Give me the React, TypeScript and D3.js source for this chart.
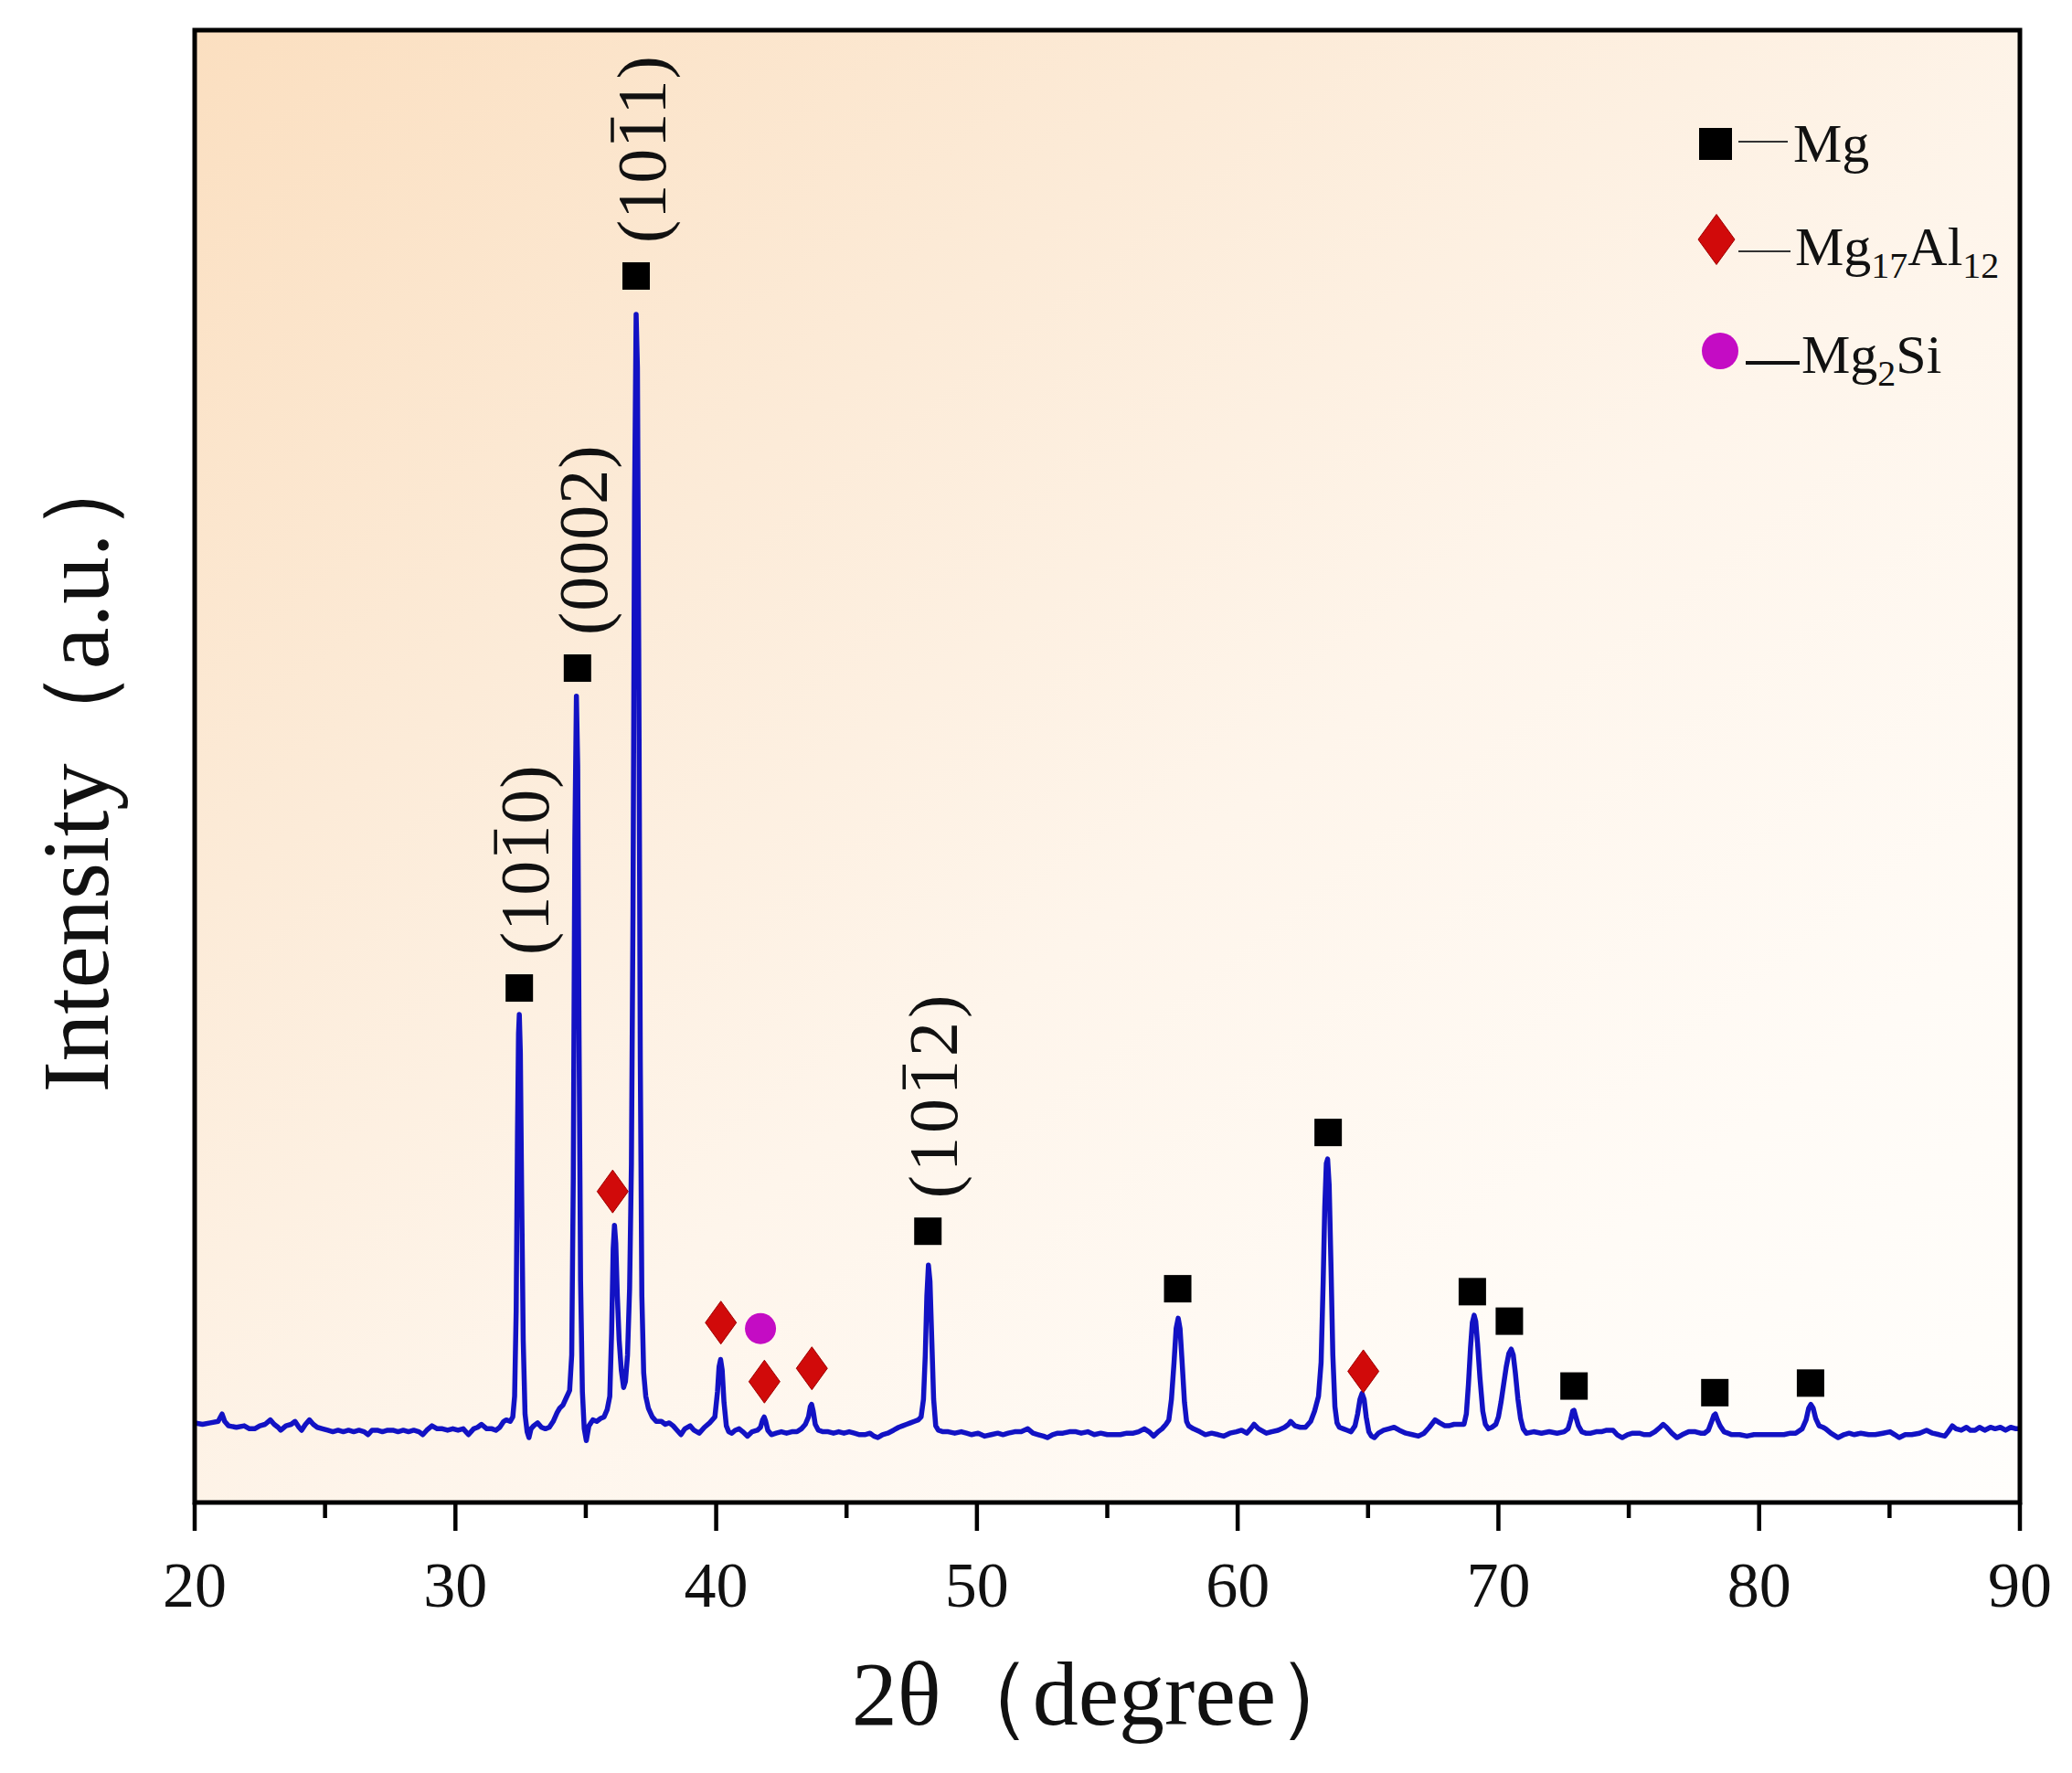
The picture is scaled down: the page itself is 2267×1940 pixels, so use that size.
import React from 'react'
import * as d3 from 'd3'

// XRD pattern: [2θ, intensity (a.u.)]
const pattern: [number, number][] = [
  [20.0, 54], [20.3, 53], [20.6, 54], [20.9, 55], [21.05, 60], [21.15, 55], [21.3, 52], [21.6, 51], [21.9, 52],
  [22.1, 50], [22.3, 50], [22.5, 52], [22.7, 53], [22.9, 56], [23.05, 53], [23.2, 51], [23.3, 49], [23.5, 52],
  [23.7, 53], [23.85, 55], [24.0, 51], [24.1, 49], [24.25, 53], [24.4, 56], [24.55, 53], [24.7, 51], [24.9, 50],
  [25.1, 49], [25.3, 48], [25.5, 49], [25.7, 48], [25.9, 49], [26.1, 48], [26.3, 49], [26.5, 48], [26.65, 46],
  [26.8, 49], [27.0, 49], [27.2, 48], [27.4, 49], [27.6, 49], [27.8, 48], [28.0, 49], [28.2, 48], [28.4, 49],
  [28.6, 48], [28.75, 46], [28.9, 49], [29.1, 52], [29.3, 50], [29.5, 50], [29.7, 49], [29.9, 50], [30.1, 49],
  [30.3, 50], [30.5, 46], [30.7, 50], [30.85, 51], [31.0, 53], [31.2, 50], [31.4, 50], [31.55, 49], [31.7, 51],
  [31.85, 55], [31.95, 56], [32.1, 55], [32.2, 58], [32.27, 72], [32.33, 130], [32.38, 250], [32.42, 318],
  [32.45, 331], [32.49, 305], [32.54, 210], [32.6, 110], [32.67, 60], [32.75, 48], [32.82, 44], [32.9, 50],
  [33.0, 52], [33.15, 54], [33.3, 51], [33.45, 50], [33.6, 51], [33.75, 55], [33.9, 61], [34.0, 64], [34.12, 66],
  [34.25, 71], [34.38, 76], [34.46, 100], [34.52, 220], [34.58, 450], [34.64, 547], [34.69, 500], [34.74, 320],
  [34.8, 150], [34.87, 75], [34.94, 50], [35.02, 42], [35.12, 52], [35.27, 56], [35.42, 55], [35.57, 57],
  [35.7, 58], [35.82, 63], [35.92, 72], [35.99, 115], [36.05, 172], [36.1, 188], [36.15, 176], [36.21, 140],
  [36.28, 110], [36.36, 90], [36.45, 78], [36.52, 82], [36.6, 100], [36.68, 145], [36.75, 230], [36.81, 400],
  [36.87, 680], [36.93, 806], [36.98, 770], [37.03, 580], [37.09, 300], [37.15, 140], [37.22, 88], [37.3, 72],
  [37.4, 64], [37.55, 58], [37.7, 55], [37.9, 55], [38.05, 53], [38.2, 54], [38.35, 52], [38.5, 49], [38.65, 46],
  [38.8, 50], [39.0, 52], [39.15, 49], [39.35, 47], [39.55, 51], [39.75, 54], [39.95, 58], [40.05, 75],
  [40.11, 92], [40.17, 97], [40.23, 90], [40.3, 68], [40.39, 52], [40.48, 48], [40.6, 47], [40.73, 49],
  [40.88, 50], [41.02, 48], [41.2, 45], [41.38, 48], [41.58, 49], [41.7, 51], [41.78, 56], [41.84, 58],
  [41.9, 55], [41.98, 49], [42.12, 46], [42.3, 47], [42.5, 48], [42.7, 47], [42.9, 48], [43.1, 48], [43.27, 50],
  [43.42, 53], [43.54, 58], [43.61, 65], [43.66, 66.5], [43.72, 62], [43.8, 53], [43.92, 49], [44.1, 48],
  [44.3, 48], [44.5, 47], [44.7, 48], [44.9, 47], [45.1, 48], [45.3, 47], [45.5, 46], [45.7, 46], [45.9, 47],
  [46.05, 45], [46.2, 44], [46.38, 46], [46.58, 47], [46.8, 49], [47.0, 51], [47.15, 52], [47.3, 53],
  [47.45, 54], [47.6, 55], [47.75, 56], [47.86, 58], [47.95, 70], [48.02, 100], [48.08, 140], [48.14, 161],
  [48.2, 150], [48.27, 110], [48.34, 70], [48.42, 52], [48.52, 49], [48.7, 48], [48.9, 48], [49.15, 47],
  [49.4, 48], [49.6, 47], [49.8, 46], [50.05, 47], [50.3, 45], [50.55, 46], [50.8, 47], [51.0, 46], [51.2, 47],
  [51.45, 48], [51.7, 48], [51.95, 50], [52.15, 47], [52.35, 46], [52.55, 45], [52.7, 44], [52.9, 46],
  [53.1, 47], [53.3, 47], [53.55, 48], [53.8, 48], [54.0, 47], [54.25, 48], [54.5, 46], [54.75, 47], [55.0, 46],
  [55.25, 46], [55.5, 46], [55.75, 47], [56.0, 47], [56.2, 48], [56.42, 50], [56.6, 48], [56.78, 45],
  [56.95, 48], [57.1, 50], [57.25, 53], [57.36, 56], [57.46, 70], [57.56, 95], [57.64, 118], [57.72, 125],
  [57.79, 118], [57.87, 95], [57.96, 68], [58.04, 55], [58.12, 52], [58.3, 50], [58.55, 48], [58.76, 46],
  [59.0, 47], [59.25, 46], [59.46, 45], [59.7, 47], [59.95, 48], [60.15, 49], [60.35, 47], [60.5, 50],
  [60.63, 53], [60.8, 50], [61.1, 47], [61.3, 48], [61.55, 49], [61.8, 51], [61.95, 53], [62.03, 55],
  [62.2, 52], [62.4, 51], [62.6, 51], [62.8, 55], [62.95, 62], [63.1, 72], [63.2, 95], [63.28, 150],
  [63.34, 200], [63.4, 230], [63.45, 233], [63.51, 215], [63.58, 160], [63.65, 100], [63.73, 65], [63.81, 54],
  [63.9, 51], [64.05, 50], [64.2, 49], [64.35, 48], [64.5, 52], [64.6, 60], [64.69, 70], [64.77, 74],
  [64.85, 70], [64.93, 58], [65.03, 48], [65.13, 45], [65.24, 44], [65.4, 47], [65.6, 49], [65.8, 50],
  [66.0, 51], [66.2, 49], [66.45, 47], [66.7, 46], [66.93, 45], [67.15, 47], [67.35, 51], [67.57, 56],
  [67.75, 54], [67.95, 52], [68.1, 52], [68.3, 53], [68.5, 53], [68.68, 53], [68.77, 60], [68.85, 80],
  [68.93, 105], [69.0, 122], [69.07, 127], [69.13, 123], [69.2, 108], [69.29, 85], [69.4, 62], [69.5, 53],
  [69.62, 50], [69.75, 51], [69.9, 53], [70.0, 58], [70.1, 68], [70.2, 80], [70.3, 92], [70.4, 101],
  [70.49, 104], [70.57, 100], [70.65, 88], [70.75, 70], [70.85, 57], [70.95, 50], [71.07, 47], [71.35, 48],
  [71.65, 47], [71.95, 48], [72.25, 47], [72.52, 48], [72.67, 50], [72.77, 56], [72.85, 62], [72.9, 62.5],
  [72.97, 58], [73.07, 52], [73.2, 48], [73.35, 47], [73.55, 47], [73.75, 48], [73.95, 48], [74.15, 49],
  [74.4, 49], [74.55, 46], [74.75, 44], [74.95, 46], [75.15, 47], [75.4, 47], [75.6, 46], [75.8, 46],
  [76.0, 48], [76.2, 51], [76.32, 53], [76.45, 51], [76.65, 47], [76.85, 44], [77.05, 46], [77.3, 48],
  [77.55, 48], [77.75, 47], [77.9, 47], [78.05, 49], [78.18, 55], [78.26, 59], [78.32, 60], [78.4, 56],
  [78.5, 52], [78.65, 48], [78.8, 47], [78.95, 46], [79.25, 46], [79.53, 45], [79.8, 46], [80.05, 46],
  [80.35, 46], [80.65, 46], [80.95, 46], [81.2, 47], [81.4, 47], [81.65, 50], [81.8, 56], [81.9, 64],
  [81.98, 66.5], [82.07, 64], [82.17, 57], [82.3, 52], [82.45, 51], [82.55, 50], [82.75, 47], [83.03, 44],
  [83.25, 46], [83.45, 47], [83.65, 46], [83.9, 47], [84.2, 46], [84.45, 46], [84.75, 47], [85.02, 48],
  [85.2, 46], [85.37, 44], [85.6, 46], [85.85, 46], [86.15, 47], [86.42, 49], [86.65, 47], [86.9, 46],
  [87.12, 45], [87.25, 48], [87.41, 52], [87.55, 50], [87.75, 49], [87.95, 51], [88.1, 49], [88.28, 49],
  [88.45, 51], [88.65, 49], [88.87, 51], [89.05, 50], [89.25, 51], [89.45, 49], [89.65, 51], [89.85, 50],
  [90.0, 50],
]

// phase markers: 2θ and the intensity level the symbol sits at
const mgPeaks = [32.45, 34.68, 36.93, 48.12, 57.7, 63.47, 69.0, 70.42, 72.9, 78.3, 81.97]
const mgLevels = [349, 566, 832, 184, 145, 251, 143, 123, 79, 74.5, 81]
const alPeaks = [36.03, 40.18, 41.85, 43.67, 64.82]
const alLevels = [211, 122, 82, 91, 89]
const siPeaks = [41.7]
const siLevels = [118]

// Miller-Bravais index labels: [before, barred digit, after]
const planePeaks = [32.45, 34.68, 36.93, 48.12]
const planeLevels = [349, 566, 832, 184]
const planeTexts = [['(10', '1', '0)'], ['(0002)', '', ''], ['(10', '1', '1)'], ['(10', '1', '2)']]

const xTicks = [20, 30, 40, 50, 60, 70, 80, 90]
const xMinor = [25, 35, 45, 55, 65, 75, 85]

const serif = '"Liberation Serif", "Times New Roman", Times, serif'
const blue = '#1212c4'
const red = '#d10a0a'
const magenta = '#c40cc4'

const diamond = (w: number, h: number) => `M0,${-h / 2}L${w / 2},0L0,${h / 2}L${-w / 2},0Z`

export default function App() {
  const left = 213, right = 2210, top = 33, bottom = 1644
  const x = d3.scaleLinear().domain([20, 90]).range([left, right])
  const y = d3.scaleLinear().domain([0, 1000]).range([bottom, 31])
  const line = d3.line<[number, number]>().x(d => x(d[0])).y(d => y(d[1]))

  const fs = 76 // index label size
  return (
    <div style={{ position: 'absolute', left: 0, top: 0 }}>
      <svg width={2267} height={1940} style={{ display: 'block', background: '#fff' }}>
        <defs>
          <linearGradient id="bg" x1="0" y1="0" x2="1" y2="1">
            <stop offset="0" stopColor="#fbdfc0" />
            <stop offset="0.3" stopColor="#fcebd8" />
            <stop offset="0.55" stopColor="#fef5eb" />
            <stop offset="0.8" stopColor="#fffbf6" />
            <stop offset="1" stopColor="#fffefc" />
          </linearGradient>
          <clipPath id="plot">
            <rect x={left} y={top} width={right - left} height={bottom - top} />
          </clipPath>
        </defs>

        <rect x={left} y={top} width={right - left} height={bottom - top} fill="url(#bg)" />

        <path d={line(pattern) || ''} fill="none" stroke={blue} strokeWidth={5.5}
          strokeLinejoin="round" clipPath="url(#plot)" />

        {mgPeaks.map((p, i) => (
          <rect key={'mg' + i} x={x(p) - 15} y={y(mgLevels[i]) - 15} width={30} height={30} fill="#000" />
        ))}
        {alPeaks.map((p, i) => (
          <path key={'al' + i} d={diamond(34, 47)} transform={`translate(${x(p)},${y(alLevels[i])})`}
            fill={red} stroke="#a00000" strokeWidth={1} />
        ))}
        {siPeaks.map((p, i) => (
          <circle key={'si' + i} cx={x(p)} cy={y(siLevels[i])} r={17} fill={magenta} />
        ))}

        {planePeaks.map((p, i) => {
          const [a, b, c] = planeTexts[i]
          const ls = i === 3 ? 4 : 1
          // start of the barred digit: "(" + "1" + "0" advances
          const barStart = fs * (0.333 + 0.5 + 0.5) + 3 * ls
          return (
            <g key={'pl' + i} transform={`translate(${x(p) + 6},${y(planeLevels[i]) - 36}) rotate(-90)`}>
              <text fontFamily={serif} fontSize={fs} dy="0.34em" fill="#111" letterSpacing={ls}>
                {a + b + c}
              </text>
              {b && (
                <line x1={barStart + 6} x2={barStart + 33} y1={-32} y2={-32} stroke="#111" strokeWidth={3.5} />
              )}
            </g>
          )
        })}

        {/* frame */}
        <rect x={left} y={top} width={right - left} height={bottom - top} fill="none" stroke="#000" strokeWidth={5} />

        {/* bottom axis ticks */}
        {xTicks.map(t => (
          <g key={'t' + t}>
            <line x1={x(t)} x2={x(t)} y1={bottom} y2={bottom + 31} stroke="#000" strokeWidth={4.5} />
            <text x={x(t)} y={1758} textAnchor="middle" fontFamily={serif} fontSize={70} fill="#111">{t}</text>
          </g>
        ))}
        {xMinor.map(t => (
          <line key={'m' + t} x1={x(t)} x2={x(t)} y1={bottom} y2={bottom + 17} stroke="#000" strokeWidth={4.5} />
        ))}

        {/* axis titles */}
        <text x={1214} y={1887} textAnchor="middle" fontFamily={serif} fontSize={100} fill="#111">2θ（degree）</text>
        <text transform="translate(118,838) rotate(-90)" textAnchor="middle" fontFamily={serif} fontSize={103} fill="#111">
          Intensity（a.u.）
        </text>

        {/* legend */}
        <rect x={1859} y={140} width={36} height={35} fill="#000" />
        <line x1={1902} x2={1956} y1={155} y2={155} stroke="#333" strokeWidth={2} />
        <text x={1962} y={177} fontFamily={serif} fontSize={60} fill="#111">Mg</text>

        <path d={diamond(40, 55)} transform="translate(1878,262)" fill={red} stroke="#a00000" strokeWidth={1} />
        <line x1={1902} x2={1959} y1={275} y2={275} stroke="#333" strokeWidth={2} />
        <text x={1964} y={290} fontFamily={serif} fontSize={60} fill="#111">
          Mg<tspan fontSize={40} dy={14}>17</tspan><tspan dy={-14}>Al</tspan><tspan fontSize={40} dy={14}>12</tspan>
        </text>

        <circle cx={1882} cy={384} r={20} fill={magenta} />
        <line x1={1910} x2={1969} y1={397} y2={397} stroke="#111" strokeWidth={4} />
        <text x={1971} y={408} fontFamily={serif} fontSize={60} fill="#111">
          Mg<tspan fontSize={40} dy={14}>2</tspan><tspan dy={-14}>Si</tspan>
        </text>
      </svg>
    </div>
  )
}
